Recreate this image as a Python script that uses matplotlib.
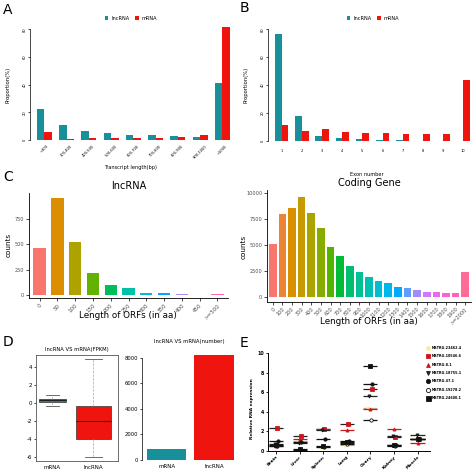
import matplotlib
matplotlib.use("Agg")
import matplotlib.pyplot as plt
import numpy as np
from matplotlib.lines import Line2D

# Data

len_bins = ["<300", "300-400", "400-500", "500-600", "600-700", "700-800", "800-900", "900-1000", ">1000"]
len_lnc = [22.2, 10.8, 6.7, 5.1, 3.9, 3.6, 2.7, 2.4, 41.4]
len_mrna = [5.5, 0.7, 1.2, 1.2, 1.7, 1.7, 1.9, 3.4, 81.9]

exon_bins = ["1", "2", "3", "4", "5", "6", "7", "8", "9", "10"]
exon_lnc = [76.4, 18.0, 3.4, 1.7, 1.0, 0.5, 0.2, 0.1, 0.0, 0.0]
exon_mrna = [11.0, 6.9, 8.1, 6.2, 5.7, 5.3, 4.8, 4.6, 4.6, 43.8]

orf_lnc_bins = ["0", "50", "100", "150", "200", "250", "300", "350", "400", "450", ">=500"]
orf_lnc_counts = [466, 949, 525, 215, 101, 72, 26, 20, 10, 7, 10]

orf_cod_bins = [str(v) for v in range(0, 2000, 100)] + [">=2000"]
orf_cod_counts = [5050, 7940, 8520, 9580, 8040, 6590, 4820, 3950, 2960, 2380, 1900,
                  1510, 1290, 965, 800, 610, 450, 420, 350, 320, 2410]

# boxplot stats (FPKM, log scale): whislo, q1, med, q3, whishi
box_names = ["mRNA", "lncRNA"]
box_whislo = [-0.3, -6.0]
box_q1 = [0.15, -4.0]
box_med = [0.3, -1.96]
box_q3 = [0.48, -0.3]
box_whishi = [0.93, 4.9]

num_names = ["mRNA", "lncRNA"]
num_values = [886, 8210]

tissues = ["Brain", "Liver", "Spleen", "Lung", "Ovary", "Kidney", "Muscle"]
transcripts = ["MSTRG.23462.4", "MSTRG.10546.6", "MSTRG.8.1", "MSTRG.18755.1",
               "MSTRG.47.1", "MSTRG.19278.2", "MSTRG.24600.1"]
expr = [
    [0.6, 1.0, 0.45, 0.6, 4.4, 0.6, 1.2],
    [2.3, 1.5, 2.2, 2.8, 6.3, 1.4, 1.2],
    [0.5, 1.2, 2.2, 2.1, 4.3, 2.2, 0.8],
    [0.7, 0.8, 2.15, 0.8, 5.6, 1.5, 1.6],
    [1.0, 0.9, 1.2, 1.0, 6.8, 0.6, 1.25],
    [0.55, 0.15, 0.4, 0.75, 3.2, 0.55, 1.2],
    [0.6, 0.2, 0.5, 0.9, 8.7, 0.6, 1.2],
]

TEAL = "#17909A"
RED = "#F0140F"

W = H = 474
fig = plt.figure(figsize=(4.74, 4.74), dpi=100, facecolor="white")


def px_axes(l, t, r, b):
    return fig.add_axes([l / W, 1 - b / H, (r - l) / W, (b - t) / H])


def ftext(x, y, s, **kw):
    fig.text(x / W, 1 - y / H, s, **kw)


def hue_colors(n, c=100, l=65):
    # ggplot2 style hue palette (HCL -> sRGB)
    hues = np.linspace(15, 375, n + 1)[:n]
    Xn, Yn, Zn = 95.047, 100.0, 108.883
    den = Xn + 15 * Yn + 3 * Zn
    un, vn = 4 * Xn / den, 9 * Yn / den
    M = np.array([[3.2404542, -1.5371385, -0.4985314],
                  [-0.9692660, 1.8760108, 0.0415560],
                  [0.0556434, -0.2040259, 1.0572252]])
    out = []
    for h in hues:
        u = c * np.cos(np.deg2rad(h))
        v = c * np.sin(np.deg2rad(h))
        Y = Yn * ((l + 16) / 116) ** 3
        up = u / (13 * l) + un
        vp = v / (13 * l) + vn
        X = Y * 9 * up / (4 * vp)
        Z = Y * (12 - 3 * up - 20 * vp) / (4 * vp)
        rgb = M @ (np.array([X, Y, Z]) / 100)
        rgb = np.where(rgb <= 0.0031308, 12.92 * rgb, 1.055 * np.abs(rgb) ** (1 / 2.4) - 0.055)
        out.append(tuple(np.clip(rgb, 0, 1)))
    return out


def r_bar_panel(ax, lnc, mrna, names, xlim, rot):
    n = len(names)
    left = np.arange(n) * 3 + 1
    ax.bar(left, lnc, width=1, align="edge", color=TEAL, label="lncRNA")
    ax.bar(left + 1, mrna, width=1, align="edge", color=RED, label="mRNA")
    ax.set_xlim(*xlim)
    ax.set_ylim(0, 84.5)
    ax.set_yticks([0, 20, 40, 60, 80])
    ax.set_yticklabels(["0", "20", "40", "60", "80"], fontsize=2.6, rotation=90, va="center")
    ax.spines["left"].set_bounds(0, 80)
    ax.spines["left"].set_linewidth(0.5)
    for s in ["top", "right", "bottom"]:
        ax.spines[s].set_visible(False)
    ax.tick_params(axis="y", length=1.5, width=0.5, pad=1)
    ax.set_xticks(left + 1)
    ax.set_xticklabels(names, fontsize=2.6, rotation=rot, ha="center", va="top")
    ax.tick_params(axis="x", length=0, pad=3)
    ax.set_facecolor("none")


# A: transcript length
axA = px_axes(30, 23, 232, 140)
r_bar_panel(axA, len_lnc, len_mrna, len_bins, (0.06, 27.3), 45)
axA.legend(loc="center", bbox_to_anchor=(131 / W, 1 - 18 / H), bbox_transform=fig.transFigure,
           ncol=2, frameon=False, fontsize=3.6, handlelength=0.7, handleheight=0.7,
           columnspacing=1.2, handletextpad=0.6)
ftext(8, 85, "Proportion(%)", fontsize=3.8, rotation=90, ha="center", va="center")
ftext(130, 168, "Transcript length(bp)", fontsize=3.6, ha="center", va="center")

# B: exon number
axB = px_axes(268, 23, 472, 140.7)
r_bar_panel(axB, exon_lnc, exon_mrna, exon_bins, (-0.04, 30.3), 0)
axB.tick_params(axis="x", pad=6)
axB.legend(loc="center", bbox_to_anchor=(373 / W, 1 - 18 / H), bbox_transform=fig.transFigure,
           ncol=2, frameon=False, fontsize=3.6, handlelength=0.7, handleheight=0.7,
           columnspacing=1.2, handletextpad=0.6)
ftext(246, 85, "Proportion(%)", fontsize=3.8, rotation=90, ha="center", va="center")
ftext(367, 175, "Exon number", fontsize=3.6, ha="center", va="center")


# C: ORF length histograms (ggplot classic look)
def gg_bar_panel(ax, counts, names, ylim, yticks, width, title):
    x = np.arange(1, len(counts) + 1)
    ax.bar(x, counts, width=width, color=hue_colors(len(counts)))
    ax.set_xlim(0.4, len(counts) + 0.6)
    ax.set_ylim(*ylim)
    ax.set_yticks(yticks)
    ax.set_yticklabels([str(t) for t in yticks], fontsize=3.6, color="#4d4d4d")
    ax.set_xticks(x)
    ax.set_xticklabels(names, fontsize=4.0, rotation=45, ha="right", va="top",
                       rotation_mode="anchor", color="#4d4d4d")
    for s in ["top", "right"]:
        ax.spines[s].set_visible(False)
    for s in ["left", "bottom"]:
        ax.spines[s].set_linewidth(0.6)
    ax.tick_params(length=2, width=0.5, pad=1.5)
    ax.set_title(title, fontsize=7, pad=3)


axC1 = px_axes(29, 193, 228, 298)
gg_bar_panel(axC1, orf_lnc_counts, orf_lnc_bins, (-26.4, 1002), [0, 250, 500, 750], 0.7, "lncRNA")
ftext(9, 245, "counts", fontsize=5.2, rotation=90, ha="center", va="center")
ftext(128, 316, "Length of ORFs (in aa)", fontsize=6.3, ha="center", va="center")

axC2 = px_axes(267, 190, 471, 301.7)
gg_bar_panel(axC2, orf_cod_counts, orf_cod_bins, (-482, 10289),
             [0, 2500, 5000, 7500, 10000], 0.8, "Coding Gene")
axC2.tick_params(axis="x", labelsize=3.6)
ftext(244, 247, "counts", fontsize=5.2, rotation=90, ha="center", va="center")
ftext(369, 321, "Length of ORFs (in aa)", fontsize=6.3, ha="center", va="center")

# D: boxplot FPKM
axD1 = px_axes(36, 355, 118, 461)
stats = []
for i in range(len(box_names)):
    stats.append({"label": box_names[i], "whislo": box_whislo[i], "q1": box_q1[i],
                  "med": box_med[i], "q3": box_q3[i], "whishi": box_whishi[i], "fliers": []})
bp = axD1.bxp(stats, positions=[1, 2], widths=[0.66, 0.85], patch_artist=True,
              boxprops=dict(linewidth=0.5, edgecolor="#333333"),
              medianprops=dict(color="#222222", linewidth=0.8),
              whiskerprops=dict(color="#aaaaaa", linewidth=0.5, linestyle="--"),
              capprops=dict(color="#555555", linewidth=0.6))
for patch, col in zip(bp["boxes"], [TEAL, RED]):
    patch.set_facecolor(col)
axD1.set_xlim(0.6, 2.6)
axD1.set_ylim(-6.45, 5.37)
axD1.set_yticks([-6, -4, -2, 0, 2, 4])
axD1.set_yticklabels(["-6", "-4", "-2", "0", "2", "4"], fontsize=4)
axD1.set_xticks([1, 2])
axD1.set_xticklabels(box_names, fontsize=4)
axD1.tick_params(length=1.5, width=0.5, pad=1.5)
axD1.tick_params(axis="x", length=0, pad=3)
for s in axD1.spines.values():
    s.set_linewidth(0.6)
    s.set_edgecolor("#555555")
axD1.set_title("lncRNA VS mRNA(FPKM)", fontsize=3.8, pad=3)

# D: numbers
axD2 = px_axes(142, 350, 237, 460)
xl = np.array([0.2, 1.4])
axD2.bar(xl, num_values, width=1, align="edge", color=[TEAL, RED])
axD2.set_xlim(0.073, 2.48)
axD2.set_ylim(0, 8600)
axD2.set_yticks([0, 2000, 4000, 6000, 8000])
axD2.set_yticklabels(["0", "2000", "4000", "6000", "8000"], fontsize=3.8)
axD2.set_xticks(xl + 0.5)
axD2.set_xticklabels(num_names, fontsize=4)
axD2.tick_params(axis="y", length=1.5, width=0.5, pad=1.5)
axD2.tick_params(axis="x", length=0, pad=3)
axD2.spines["left"].set_bounds(0, 8000)
axD2.spines["left"].set_linewidth(0.5)
for s in ["top", "right", "bottom"]:
    axD2.spines[s].set_visible(False)
axD2.set_title("lncRNA VS mRNA(number)", fontsize=3.8, pad=5)

# E: qPCR expression across tissues
axE = px_axes(268, 350, 430, 451)
markers = ["o", "s", "^", "v", "o", "o", "s"]
mcolors = ["#f3efa0", "#d0141c", "#d0141c", "#0d3b36", "#111111", "white", "#111111"]
lcolors = ["#b8b890", "#222222", "#d0141c", "#222222", "#111111", "#111111", "#111111"]
msizes = [2.2, 2.6, 2.2, 2.2, 2.4, 2.4, 3.0]
offsets = [-0.08, 0.05, 0.0, -0.04, 0.08, 0.03, 0.0]
xt = np.arange(len(tissues))
handles = []
for k in range(len(transcripts)):
    y = np.array(expr[k])
    axE.hlines(y, xt - 0.3, xt + 0.3, color=lcolors[k], linewidth=0.9)
    axE.plot(xt + offsets[k], y, linestyle="none", marker=markers[k], ms=msizes[k],
             mfc=mcolors[k], mec="#111111" if k not in (0, 1, 2) else mcolors[k], mew=0.6)
    handles.append(Line2D([], [], linestyle="none", marker=markers[k], ms=msizes[k] + 0.6,
                          mfc=mcolors[k], mec="#111111" if k not in (0, 1, 2) else mcolors[k],
                          mew=0.6, label=transcripts[k]))
axE.set_xlim(-0.34, 6.53)
axE.set_ylim(0, 10.3)
axE.set_yticks([0, 2, 4, 6, 8, 10])
axE.set_yticklabels(["0", "2", "4", "6", "8", "10"], fontsize=3.4, fontweight="bold")
axE.set_xticks(xt)
axE.set_xticklabels(tissues, fontsize=3.2, fontweight="bold", rotation=45, ha="right",
                    va="top", rotation_mode="anchor")
axE.spines["left"].set_bounds(0, 10)
for s in ["top", "right"]:
    axE.spines[s].set_visible(False)
for s in ["left", "bottom"]:
    axE.spines[s].set_linewidth(0.7)
axE.tick_params(length=1.8, width=0.6, pad=1)
ftext(252, 409, "Relative RNA expression", fontsize=3.2, fontweight="bold",
      rotation=90, ha="center", va="center")
fig.legend(handles=handles, loc="upper left", bbox_to_anchor=(423 / W, 1 - 343 / H),
           frameon=False, fontsize=2.4, labelspacing=1.3, handlelength=1.0,
           handletextpad=0.6, prop={"weight": "bold", "size": 2.4})

# panel letters
for lab, x, y in [("A", 3, 10), ("B", 240, 8), ("C", 3, 177), ("D", 3, 342), ("E", 240, 343)]:
    ftext(x, y, lab, fontsize=10, ha="left", va="center")

fig.savefig("out.png", dpi=100, facecolor="white")
